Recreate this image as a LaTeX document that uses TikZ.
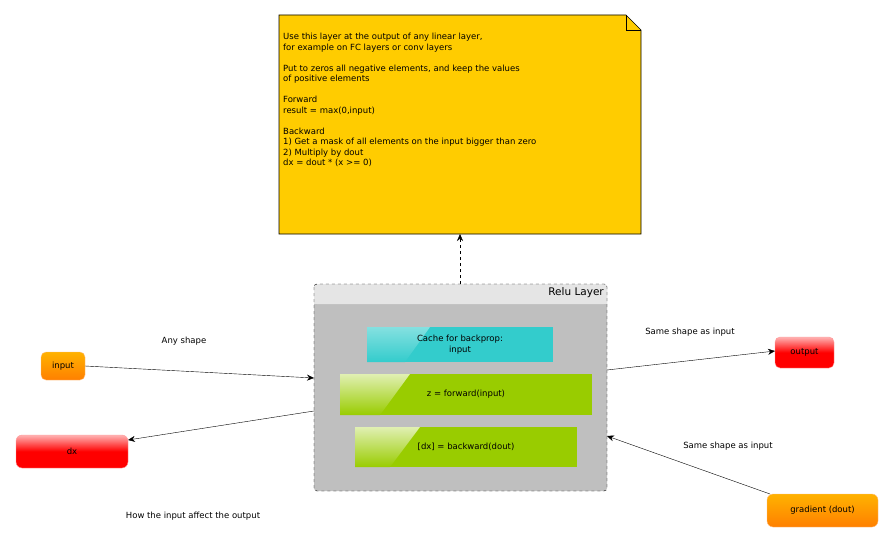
\documentclass[tikz,border=0pt]{standalone}
\usepackage{fontspec}
\setmainfont{DejaVu Sans}
\usetikzlibrary{arrows.meta}
\definecolor{noteY}{RGB}{255,204,0}
\definecolor{cy}{RGB}{51,204,204}
\definecolor{gr}{RGB}{153,204,0}
\begin{document}
\begin{tikzpicture}[x=1pt,y=-1pt,font=\fontsize{8.5}{10.5}\selectfont,
  lbl/.style={inner sep=0pt},
  arr/.style={-{Stealth[length=7pt,width=6pt]},black}]
\useasboundingbox (0,0) rectangle (895,543);
% note
\fill[noteY] (279,15) -- (626,15) -- (641,30) -- (641,234) -- (279,234) -- cycle;
\draw[black,line width=0.6pt] (279,15) -- (626,15) -- (641,30) -- (641,234) -- (279,234) -- cycle;
\draw[black,line width=0.6pt] (626,15) -- (626,30) -- (641,30);
\node[lbl,anchor=north west,align=left] (note) at (283,33) {Use this layer at the output of any linear layer,\\for example on FC layers or conv layers\\[10.5pt]Put to zeros all negative elements, and keep the values\\of positive elements\\[10.5pt]Forward\\result = max(0,input)\\[10.5pt]Backward\\1) Get a mask of all elements on the input bigger than zero\\2) Multiply by dout\\dx = dout * (x >= 0)};
\coordinate (notebot) at (460,234);
% frame
\fill[gray!50,rounded corners=3pt] (314,284) rectangle (607,491);
\fill[gray!20,rounded corners=3pt] (314,284) rectangle (607,304);
\fill[gray!20] (314,295) rectangle (607,304);
\draw[dashed,black,rounded corners=3pt] (314,284) rectangle (607,491);
\node[lbl,anchor=north east,font=\fontsize{10.5}{12}\selectfont] at (604,287) {Relu Layer};
\coordinate (ftop) at (460,284);
\coordinate (fin) at (314,378);
\coordinate (fdx) at (314,411);
\coordinate (fout) at (607,370);
\coordinate (fgrad) at (607,436);
% inner nodes
\fill[cy] (367,327) rectangle (553,362);
\shade[top color=white!40!cy,bottom color=cy] (367,327) -- (430,327) -- (405,362) -- (367,362) -- cycle;
\node[lbl,align=center] (cache) at (460,344.5) {Cache for backprop:\\input};
\fill[gr] (340,374) rectangle (592,415);
\shade[top color=white!70!gr,bottom color=gr] (340,374) -- (410,374) -- (380,415) -- (340,415) -- cycle;
\node[lbl] (fwd) at (466,394.5) {z = forward(input)};
\fill[gr] (355,427) rectangle (577,467);
\shade[top color=white!70!gr,bottom color=gr] (355,427) -- (420,427) -- (390,467) -- (355,467) -- cycle;
\node[lbl] (bwd) at (466,447) {[dx] = backward(dout)};
% pills
\shade[rounded corners=5pt,top color=orange!60!yellow,bottom color=orange] (41,352) rectangle (85,380);
\draw[orange!50!white,rounded corners=5pt] (41,352) rectangle (85,380);
\node[lbl] (input) at (63,366) {input};
\shade[rounded corners=6pt,top color=red!30!white,bottom color=red,middle color=red] (16,435) rectangle (128,468);
\draw[red!40!white,rounded corners=6pt] (16,435) rectangle (128,468);
\node[lbl] (dx) at (72,451.5) {dx};
\shade[rounded corners=5pt,top color=red!30!white,bottom color=red,middle color=red] (775,337) rectangle (834,368);
\draw[red!40!white,rounded corners=5pt] (775,337) rectangle (834,368);
\node[lbl] (output) at (804.5,352) {output};
\shade[rounded corners=6pt,top color=orange!60!yellow,bottom color=orange] (767,494) rectangle (878,527);
\draw[orange!50!white,rounded corners=6pt] (767,494) rectangle (878,527);
\node[lbl] (grad) at (822.5,510.5) {gradient (dout)};
\coordinate (inR) at (85,366);
\coordinate (dxR) at (128,440);
\coordinate (outL) at (775,351);
\coordinate (gradT) at (770,494);
% connectors
\draw[arr,dashed] (ftop) -- (notebot);
\draw[arr] (inR) -- (fin);
\draw[arr] (fdx) -- (dxR);
\draw[arr] (fout) -- (outL);
\draw[arr] (gradT) -- (fgrad);
% labels
\node[lbl] (l1) at (184,341) {Any shape};
\node[lbl] (l2) at (690,332) {Same shape as input};
\node[lbl] (l3) at (728,446) {Same shape as input};
\node[lbl] (l4) at (193,516) {How the input affect the output};
\end{tikzpicture}
\end{document}
